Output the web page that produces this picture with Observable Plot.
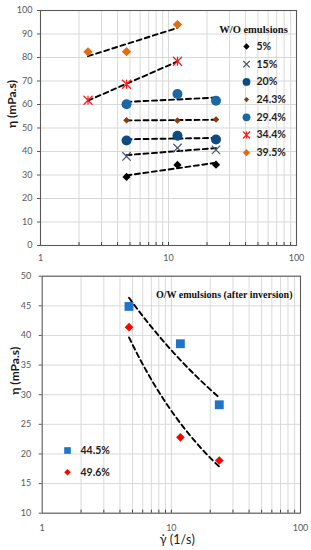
<!DOCTYPE html>
<html><head><meta charset="utf-8">
<script src="https://cdn.jsdelivr.net/npm/d3@7"></script>
<script src="https://cdn.jsdelivr.net/npm/@observablehq/plot@0.6"></script>
<style>
html,body{margin:0;padding:0;background:#fff;}
#chart{width:311px;height:550px;overflow:hidden;}
#chart svg{display:block;}
</style></head><body><div id="chart"></div>
<script>
// ---------- data ----------
const shearTop = [2.35, 4.7, 11.75, 23.5];
const labelsTop = ["5%", "15%", "20%", "24.3%", "29.4%", "34.4%", "39.5%"];
const v5  = [null, 29.2, 34.3, 34.4];
const v15 = [null, 37.9, 41.5, 40.7];
const v20 = [null, 44.7, 46.7, 45.1];
const v24 = [null, 53.3, 53.2, 53.6];
const v29 = [null, 60.1, 64.5, 61.6];
const v34 = [61.8, 68.6, 78.4, null];
const v39 = [82.4, 82.5, 94.0, null];
const valuesTop = [v5, v15, v20, v24, v29, v34, v39];

const shearBot = [4.7, 11.75, 23.5];
const labelsBot = ["44.5%", "49.6%"];
const v445 = [44.9, 38.6, 28.3];
const v496 = [41.4, 22.8, 18.9];
const valuesBot = [v445, v496];

const xTicks = [1, 10, 100];
const xMinor = [2, 3, 4, 5, 6, 7, 8, 9, 10, 20, 30, 40, 50, 60, 70, 80, 90];
const yTicksTop = [0, 10, 20, 30, 40, 50, 60, 70, 80, 90, 100];
const yTicksBot = [10, 15, 20, 25, 30, 35, 40, 45, 50];
const titleTop = "W/O emulsions";
const titleBot = "O/W emulsions (after inversion)";
const yTitle = "η (mPa.s)";
const xTitle = "γ̇ (1/s)";

// ---------- styles ----------
const asterisk = {draw(ctx, size) {
  const a = Math.sqrt(size / Math.PI);
  ctx.moveTo(-a, -a); ctx.lineTo(a, a);
  ctx.moveTo(a, -a); ctx.lineTo(-a, a);
  ctx.moveTo(0, -a); ctx.lineTo(0, a);
}};
const stylesTop = [
  {symbol: "diamond2", fill: "#000000", r: 3.7},
  {symbol: "times", fill: "none", stroke: "#44546a", r: 3.9, strokeWidth: 1.2},
  {symbol: "circle", fill: "#0e4a84", r: 5},
  {symbol: "diamond2", fill: "#8b3a0e", r: 3.0},
  {symbol: "circle", fill: "#1b66a3", r: 5},
  {symbol: asterisk, fill: "none", stroke: "#ff1a1a", r: 4.5, strokeWidth: 1.2},
  {symbol: "diamond2", fill: "#e46c0a", r: 4.2}
];
const stylesBot = [
  {symbol: "square", fill: "#1f74c8", r: 5},
  {symbol: "diamond2", fill: "#ff0000", r: 3.9}
];

function rows(xs, ys, s) {
  return xs.map((x, i) => ({x, y: ys[i], s})).filter(d => d.y != null);
}
// log trendline y = a + b ln x (straight on log x): two endpoints
function logTrend(pts) {
  const lx = pts.map(d => Math.log(d.x)), ys = pts.map(d => d.y);
  const mx = d3.mean(lx), my = d3.mean(ys);
  const b = d3.sum(lx, (v, i) => (v - mx) * (ys[i] - my)) / d3.sum(lx, v => (v - mx) ** 2);
  const ext = d3.extent(pts, d => d.x);
  return ext.map(x => ({x, y: my + b * (Math.log(x) - mx), s: pts[0].s}));
}
// power trendline y = A x^b
function powTrend(pts) {
  const lx = pts.map(d => Math.log(d.x)), ly = pts.map(d => Math.log(d.y));
  const mx = d3.mean(lx), my = d3.mean(ly);
  const b = d3.sum(lx, (v, i) => (v - mx) * (ly[i] - my)) / d3.sum(lx, v => (v - mx) ** 2);
  const [x0, x1] = d3.extent(pts, d => d.x);
  const n = 24, out = [];
  for (let k = 0; k <= n; k++) {
    const x = Math.exp(Math.log(x0) + (Math.log(x1) - Math.log(x0)) * k / n);
    out.push({x, y: Math.exp(my + b * (Math.log(x) - mx)), s: pts[0].s});
  }
  return out;
}

const font = "Lato, 'Open Sans', sans-serif";
const tickGray = "#595959";
const gridGray = "#d9d9d9";

function makeChart(cfg) {
  const marks = [
    Plot.gridX({ticks: xMinor, stroke: gridGray, strokeOpacity: 1}),
    Plot.gridY({ticks: cfg.yTicks, stroke: gridGray, strokeOpacity: 1}),
    Plot.frame({stroke: tickGray, strokeWidth: 1.1})
  ];
  cfg.series.forEach((pts, i) => {
    marks.push(Plot.line(cfg.trend(pts), {x: "x", y: "y", stroke: "#000", strokeWidth: 1.9, strokeDasharray: "5,3.5"}));
  });
  cfg.series.forEach((pts, i) => {
    const st = cfg.styles[i];
    marks.push(Plot.dot(pts, {x: "x", y: "y", symbol: st.symbol, fill: st.fill, stroke: st.stroke || "none", strokeWidth: st.strokeWidth || 1, r: st.r}));
  });
  marks.push(
    Plot.axisY({ticks: cfg.yTicks, tickSize: 3, tickPadding: cfg.yPad, fontSize: 9, fill: tickGray, stroke: tickGray, label: null}),
    Plot.axisX({ticks: xTicks, tickSize: 0, tickPadding: cfg.xPad, tickFormat: d => String(d), fontSize: 9, fill: tickGray, label: null}),
    Plot.axisX({ticks: xMinor, tickSize: 3, dy: -3, tickFormat: () => "", stroke: "#404040", label: null}),
    Plot.text([yTitle], {text: d => d, frameAnchor: "left", dx: cfg.yTitleDx, rotate: -90, lineAnchor: "middle", fontWeight: "bold", fontSize: 12, fill: "#1a1a1a"}),
    Plot.text([cfg.title], {text: d => d, frameAnchor: "top-left", dx: cfg.titleDx, dy: cfg.titleDy, textAnchor: "middle", lineAnchor: "middle", fontFamily: "'Liberation Serif', serif", fontWeight: "bold", fontSize: cfg.titleSize, fill: "#111"})
  );
  cfg.labels.forEach((lab, i) => {
    const st = cfg.styles[i];
    const dy = cfg.legDy0 + cfg.legStep * i;
    marks.push(
      Plot.dot([lab], {frameAnchor: "top-left", dx: cfg.legDx, dy, symbol: st.symbol, fill: st.fill, stroke: st.stroke || "none", strokeWidth: st.strokeWidth || 1, r: st.r * cfg.legScale}),
      Plot.text([lab], {text: d => d, frameAnchor: "top-left", dx: cfg.legDx + cfg.legGap, dy, textAnchor: "start", lineAnchor: "middle", fontWeight: "bold", fontSize: 10.5, fill: "#222"})
    );
  });
  if (cfg.xTitle) marks.push(Plot.text([cfg.xTitle], {text: d => d, frameAnchor: "bottom", dx: 6, dy: 27, lineAnchor: "middle", fontSize: 12.5, fill: "#222"}));
  return Plot.plot({
    width: 311, height: cfg.height,
    marginLeft: cfg.ml, marginRight: cfg.mr, marginTop: cfg.mt, marginBottom: cfg.mb,
    x: {type: "log", domain: [1, 100]},
    y: {domain: cfg.yDomain},
    style: {fontFamily: font, background: "#fff", overflow: "visible"},
    marks
  });
}

const seriesTop = valuesTop.map((v, i) => rows(shearTop, v, labelsTop[i]));
const seriesBot = valuesBot.map((v, i) => rows(shearBot, v, labelsBot[i]));

const chartTop = makeChart({
  height: 265, ml: 40, mr: 15, mt: 10, mb: 20, yDomain: [0, 100], yTicks: yTicksTop,
  series: seriesTop, styles: stylesTop, labels: labelsTop, trend: logTrend,
  yPad: 5, xPad: 9, yTitleDx: -28,
  title: titleTop, titleDx: 213, titleDy: 19.5, titleSize: 10.5,
  legDx: 206, legDy0: 36, legStep: 17.7, legGap: 10, legScale: 0.78
});
const chartBot = makeChart({
  height: 285, ml: 41.7, mr: 11, mt: 10.7, mb: 37.3, yDomain: [10, 50], yTicks: yTicksBot,
  series: seriesBot, styles: stylesBot, labels: labelsBot, trend: powTrend,
  yPad: 8, xPad: 11, yTitleDx: -27,
  title: titleBot, titleDx: 182, titleDy: 18.3, titleSize: 10,
  legDx: 25.3, legDy0: 174.3, legStep: 21.7, legGap: 13, legScale: 0.75,
  xTitle
});
document.getElementById("chart").append(chartTop, chartBot);
</script></body></html>
